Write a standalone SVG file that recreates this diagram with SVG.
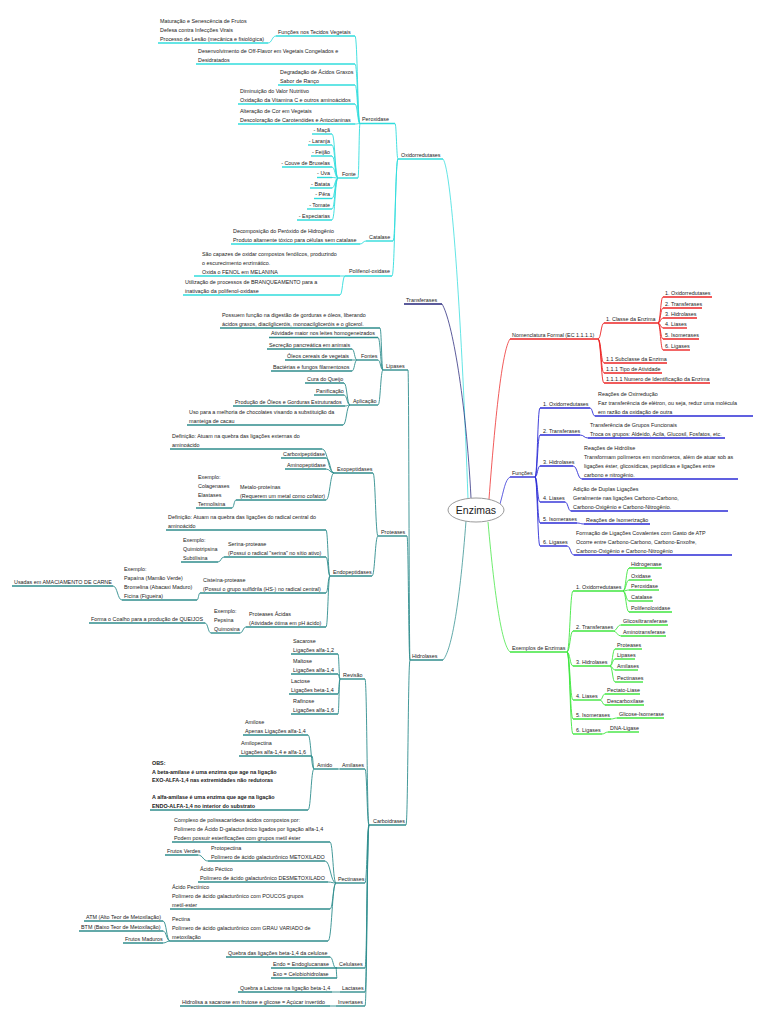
<svg xmlns="http://www.w3.org/2000/svg" width="768" height="1024" viewBox="0 0 768 1024">
<style>
text{font-family:"Liberation Sans",Arial,sans-serif;font-size:5.4px;fill:#222}
.b{font-weight:bold}
.e{text-anchor:end}
.u{fill:none;stroke-width:1.4}
.c{fill:none;stroke-width:0.9}
.m{fill:none;stroke-width:1;opacity:0.75}
.cy{stroke:#30dcdc}.nv{stroke:#25257a}.tl{stroke:#2f8d8d}.rd{stroke:#ec2424}.bl{stroke:#2b2bd6}.gr{stroke:#3fe63f}
</style>
<rect width="768" height="1024" fill="#fff"/>
<g id="connectors">
<path class="m cy" d="M468 499C462 330 452 170 443 159"/>
<path class="m nv" d="M471 498C466 400 452 320 442 304"/>
<path class="m tl" d="M466 521C460 600 452 650 443 660"/>
<path class="m rd" d="M489 499C495 420 502 350 510 339"/>
<path class="m bl" d="M500 504C504 490 505 480 510 477"/>
<path class="m gr" d="M488 522C495 600 502 645 510 652"/>
<!-- cyan -->
<path class="c cy" d="M398 159C396.5 159 396.5 123.5 395 123.5M398 159C395.5 159 395.5 241 393 241M398 159C395 159 395 276 392 276"/>
<path class="c cy" d="M360 123.5C357.5 123.5 357.5 36 355 36M360 123.5C357.5 123.5 357.5 64 355 64M360 123.5C357.5 123.5 357.5 85 355 85M360 123.5C357.5 123.5 357.5 104 355 104M360 123.5C357.5 123.5 357.5 124 355 124M360 123.5C359 123.5 359 178 358 178"/>
<path class="c cy" d="M276 36C272 36 272 43 268 43"/>
<path class="c cy" d="M338 178C335 178 335 134 332 134M338 178C335 178 335 145 332 145M338 178C335 178 335 156 332 156M338 178C335 178 335 167 332 167M338 178C335 178 335 177.5 332 177.5M338 178C335 178 335 188 332 188M338 178C335 178 335 198.5 332 198.5M338 178C335 178 335 209 332 209M338 178C335 178 335 220 332 220"/>
<path class="c cy" d="M366 241C363 241 363 244 360 244M345 276H340M345 276C342.5 276 342.5 295 340 295"/>
<!-- teal -->
<path class="c tl" d="M410 660C409 660 409 370 408 370M410 660C408.5 660 408.5 536 407 536M410 660C408 660 408 825 406 825"/>
<path class="c tl" d="M383 370C381.5 370 381.5 328 380 328M383 370C380.5 370 380.5 337.5 378 337.5M383 370C380.5 370 380.5 360 378 360M383 370C380.5 370 380.5 405 378 405"/>
<path class="c tl" d="M357 360C354.5 360 354.5 349 352 349M357 360H352M357 360C354.5 360 354.5 371 352 371"/>
<path class="c tl" d="M350 405C347 405 347 383 344 383M350 405C347 405 347 395 344 395M350 405C347.5 405 347.5 406 345 406M350 405C346.5 405 346.5 425 343 425"/>
<path class="c tl" d="M378 536C375.5 536 375.5 473 373 473M378 536C375 536 375 576 372 576"/>
<path class="c tl" d="M334 473C328 473 328 449 322 449M334 473C330 473 330 458 326 458M334 473C330 473 330 469 326 469M334 473C330 473 330 500 326 500"/>
<path class="c tl" d="M236 500C234 500 234 508 232 508"/>
<path class="c tl" d="M330 576C328 576 328 530 326 530M330 576C328 576 328 557 326 557M330 576C328 576 328 593 326 593M330 576C328 576 328 627 326 627"/>
<path class="c tl" d="M224 557C221 557 221 562 218 562M200 593C198.5 593 198.5 600 197 600M122 600C117.5 600 117.5 586 113 586M246 627C243 627 243 633 240 633M211 633C208 633 208 623 205 623"/>
<path class="c tl" d="M369 825C367 825 367 679 365 679M369 825C367 825 367 769 365 769M369 825C367 825 367 883 365 883M369 825C367 825 367 968 365 968M369 825C367 825 367 992 365 992M369 825C367 825 367 1006 365 1006"/>
<path class="c tl" d="M340 679C339 679 339 654 338 654M340 679C339 679 339 674 338 674M340 679C339 679 339 694 338 694M340 679C339 679 339 714 338 714"/>
<path class="c tl" d="M340 769H338M314 769C311 769 311 735 308 735M314 769C313 769 313 756 312 756M314 769C311 769 311 810 308 810"/>
<path class="c tl" d="M336 883C333 883 333 842 330 842M336 883C330.5 883 330.5 861 325 861M336 883C332 883 332 882 328 882M336 883C333 883 333 909 330 909M336 883C332 883 332 941 328 941"/>
<path class="c tl" d="M208 861C203 861 203 855 198 855M170 941C166.5 941 166.5 921 163 921M170 941C166.5 941 166.5 931 163 931M170 941C166.5 941 166.5 943 163 943"/>
<path class="c tl" d="M336 968C333 968 333 957 330 957M336 968H337M336 968C336.5 968 336.5 978 337 978M340 992H332M336 1006H330"/>
<!-- red -->
<path class="c rd" d="M598 339C601 339 601 323 604 323M598 339C601 339 601 363 604 363M598 339C601 339 601 373 604 373M598 339C601 339 601 383 604 383"/>
<path class="c rd" d="M658 323C660.5 323 660.5 297 663 297M658 323C660.5 323 660.5 308 663 308M658 323C660.5 323 660.5 318 663 318M658 323C660.5 323 660.5 328 663 328M658 323C660.5 323 660.5 339 663 339M658 323C660.5 323 660.5 350 663 350"/>
<!-- blue -->
<path class="c bl" d="M535 477C537.5 477 537.5 408 540 408M535 477C537.5 477 537.5 435 540 435M535 477C537.5 477 537.5 466 540 466M535 477C537.5 477 537.5 502 540 502M535 477C537.5 477 537.5 523 540 523M535 477C537.5 477 537.5 546 540 546"/>
<path class="c bl" d="M590 408C592.5 408 592.5 416 595 416M580 435C584 435 584 438 588 438M573 466C577.5 466 577.5 479 582 479M565 502C568 502 568 511 571 511M577 523C580.5 523 580.5 524 584 524M567 546C570.5 546 570.5 555 574 555"/>
<!-- green -->
<path class="c gr" d="M567 652C570 652 570 591 573 591M567 652C570 652 570 631 573 631M567 652C570 652 570 666 573 666M567 652C570 652 570 700 573 700M567 652C570 652 570 719 573 719M567 652C570 652 570 734 573 734"/>
<path class="c gr" d="M623 591C626 591 626 568 629 568M623 591C626 591 626 580 629 580M623 591C626 591 626 590 629 590M623 591C626 591 626 601 629 601M623 591C626 591 626 612 629 612"/>
<path class="c gr" d="M613 631C617 631 617 625 621 625M613 631C617 631 617 636 621 636"/>
<path class="c gr" d="M610 666C612.5 666 612.5 649 615 649M610 666C612.5 666 612.5 659 615 659M610 666C612.5 666 612.5 670 615 670M610 666C612.5 666 612.5 682 615 682"/>
<path class="c gr" d="M600 700C602.5 700 602.5 694 605 694M600 700C602.5 700 602.5 705 605 705M611 719C614 719 614 718 617 718M602 734C605 734 605 732 608 732"/>
</g>

<g id="enzimas"><ellipse cx="476" cy="510" rx="28" ry="12" fill="#fff" stroke="#9a9a9a" stroke-width="1"/><text x="476" y="514" text-anchor="middle" style="font-size:10.5px">Enzimas</text></g>

<!-- Oxidorredutases branch -->
<g id="oxidorredutases"><text x="401" y="156.5">Oxidorredutases</text><path class="u cy" d="M398 159H443"/></g>
<g id="peroxidase"><text x="362" y="121">Peroxidase</text><path class="u cy" d="M360 123.5H395"/></g>
<g id="funcoes-tecidos"><text x="278" y="33.5">Funções nos Tecidos Vegetais</text><path class="u cy" d="M276 36H355"/></g>
<g id="maturacao"><text x="160" y="23.1">Maturação e Senescência de Frutos<tspan x="160" dy="8.7">Defesa contra Infecções Virais</tspan><tspan x="160" dy="8.7">Processo de Lesão (mecânica e fisiológica)</tspan></text><path class="u cy" d="M158 43H268"/></g>
<g id="off-flavor"><text x="198" y="52.8">Desenvolvimento de Off-Flavor em Vegetais Congelados e<tspan x="198" dy="8.7">Desidratados</tspan></text><path class="u cy" d="M196 64H355"/></g>
<g id="degradacao"><text x="280" y="73.8">Degradação de Ácidos Graxos<tspan x="280" dy="8.7">Sabor de Ranço</tspan></text><path class="u cy" d="M278 85H355"/></g>
<g id="diminuicao"><text x="240" y="92.8">Diminuição do Valor Nutritivo<tspan x="240" dy="8.7">Oxidação da Vitamina C e outros aminoácidos</tspan></text><path class="u cy" d="M238 104H355"/></g>
<g id="alteracao"><text x="240" y="112.8">Alteração de Cor em Vegetais<tspan x="240" dy="8.7">Descoloração de Carotenóides e Antocianinas</tspan></text><path class="u cy" d="M238 124H355"/></g>
<g id="fonte"><text x="342" y="175.5">Fonte</text><path class="u cy" d="M338 178H358"/></g>
<g id="fonte-maca"><text class="e" x="330" y="131.5">- Maçã</text><path class="u cy" d="M312 134H332"/></g>
<g id="fonte-laranja"><text class="e" x="330" y="142.5">- Laranja</text><path class="u cy" d="M308 145H332"/></g>
<g id="fonte-feijao"><text class="e" x="330" y="153.5">- Feijão</text><path class="u cy" d="M311 156H332"/></g>
<g id="fonte-couve"><text class="e" x="330" y="164.5">- Couve de Bruxelas</text><path class="u cy" d="M282 167H332"/></g>
<g id="fonte-uva"><text class="e" x="330" y="175">- Uva</text><path class="u cy" d="M317 177.5H332"/></g>
<g id="fonte-batata"><text class="e" x="330" y="185.5">- Batata</text><path class="u cy" d="M310 188H332"/></g>
<g id="fonte-pera"><text class="e" x="330" y="196">- Pêra</text><path class="u cy" d="M314 198.5H332"/></g>
<g id="fonte-tomate"><text class="e" x="330" y="206.5">- Tomate</text><path class="u cy" d="M307 209H332"/></g>
<g id="fonte-especiarias"><text class="e" x="330" y="217.5">- Especiarias</text><path class="u cy" d="M297 220H332"/></g>
<g id="catalase"><text x="369" y="238.5">Catalase</text><path class="u cy" d="M366 241H393"/></g>
<g id="catalase-desc"><text x="233" y="232.8">Decomposição do Peróxido de Hidrogênio<tspan x="233" dy="8.7">Produto altamente tóxico para células sem catalase</tspan></text><path class="u cy" d="M231 244H360"/></g>
<g id="polifenol"><text x="349" y="273">Polifenol-oxidase</text><path class="u cy" d="M345 276H392"/></g>
<g id="polifenol-desc"><text x="202" y="256.1">São capazes de oxidar compostos fenólicos, produzindo<tspan x="202" dy="8.7">o escurecimento enzimático.</tspan><tspan x="202" dy="8.7">Oxida o FENOL em MELANINA</tspan></text><path class="u cy" d="M194 276H340"/></g>
<g id="polifenol-util"><text x="185" y="283.8">Utilização de processos de BRANQUEAMENTO para a<tspan x="185" dy="8.7">inativação da polifenol-oxidase</tspan></text><path class="u cy" d="M183 295H340"/></g>

<g id="transferases"><text x="406" y="301.5">Transferases</text><path class="u nv" d="M404 304H442"/></g>

<!-- Hidrolases branch -->
<g id="hidrolases"><text x="412" y="657.5">Hidrolases</text><path class="u tl" d="M410 660H443"/></g>
<g id="lipases"><text x="386" y="367.5">Lipases</text><path class="u tl" d="M383 370H408"/></g>
<g id="lip-possuem"><text x="222" y="316.8">Possuem função na digestão de gorduras e óleos, liberando<tspan x="222" dy="8.7">ácidos graxos, diacilgliceróis, monoacilgliceróis e o glicerol.</tspan></text><path class="u tl" d="M220 328H380"/></g>
<g id="lip-atividade"><text x="271" y="335">Atividade maior nos leites homogeneizados</text><path class="u tl" d="M269 337.5H378"/></g>
<g id="lip-fontes"><text x="361" y="357.5">Fontes</text><path class="u tl" d="M357 360H378"/></g>
<g id="lip-secrecao"><text x="269" y="346.5">Secreção pancreática em animais</text><path class="u tl" d="M267 349H352"/></g>
<g id="lip-oleos"><text x="287" y="357.5">Óleos cereais de vegetais</text><path class="u tl" d="M285 360H352"/></g>
<g id="lip-bacterias"><text x="273" y="368.5">Bactérias e fungos filamentosos</text><path class="u tl" d="M271 371H352"/></g>
<g id="lip-aplicacao"><text x="353" y="402.5">Aplicação</text><path class="u tl" d="M350 405H378"/></g>
<g id="lip-cura"><text x="307" y="380.5">Cura do Queijo</text><path class="u tl" d="M305 383H344"/></g>
<g id="lip-panificacao"><text x="316" y="392.5">Panificação</text><path class="u tl" d="M314 395H344"/></g>
<g id="lip-producao"><text x="235" y="403.5">Produção de Óleos e Gorduras Estruturados</text><path class="u tl" d="M233 406H345"/></g>
<g id="lip-uso"><text x="189" y="413.8">Uso para a melhoria de chocolates visando a substituição da<tspan x="189" dy="8.7">manteiga de cacau</tspan></text><path class="u tl" d="M187 425H343"/></g>

<g id="proteases"><text x="381" y="533.5">Proteases</text><path class="u tl" d="M378 536H407"/></g>
<g id="exopeptidases"><text x="337" y="470.5">Exopeptidases</text><path class="u tl" d="M334 473H373"/></g>
<g id="exo-definicao"><text x="172" y="437.8">Definição: Atuam na quebra das ligações externas do<tspan x="172" dy="8.7">aminoácido</tspan></text><path class="u tl" d="M170 449H322"/></g>
<g id="exo-carboxi"><text x="283" y="455.5">Carboxipeptidase</text><path class="u tl" d="M281 458H326"/></g>
<g id="exo-amino"><text x="287" y="466.5">Aminopeptidase</text><path class="u tl" d="M285 469H326"/></g>
<g id="exo-metalo"><text x="240" y="488.8">Metalo-proteínas<tspan x="240" dy="8.7">(Requerem um metal como cofator)</tspan></text><path class="u tl" d="M236 500H326"/></g>
<g id="exo-metalo-ex"><text x="198" y="479.4">Exemplo:<tspan x="198" dy="8.7">Colagenases</tspan><tspan x="198" dy="8.7">Elastases</tspan><tspan x="198" dy="8.7">Termolisina</tspan></text><path class="u tl" d="M196 508H232"/></g>
<g id="endopeptidases"><text x="333" y="573.5">Endopeptidases</text><path class="u tl" d="M330 576H372"/></g>
<g id="endo-definicao"><text x="168" y="518.8">Definição: Atuam na quebra das ligações do radical central do<tspan x="168" dy="8.7">aminoácido</tspan></text><path class="u tl" d="M166 530H326"/></g>
<g id="endo-serina"><text x="228" y="545.8">Serina-protease<tspan x="228" dy="8.7">(Possui o radical &quot;serina&quot; no sítio ativo)</tspan></text><path class="u tl" d="M224 557H326"/></g>
<g id="endo-serina-ex"><text x="183" y="542.1">Exemplo:<tspan x="183" dy="8.7">Quimiotripsina</tspan><tspan x="183" dy="8.7">Subtilisina</tspan></text><path class="u tl" d="M181 562H218"/></g>
<g id="endo-cisteina"><text x="203" y="581.8">Cisteína-protease<tspan x="203" dy="8.7">(Possui o grupo sulfidrila (HS-) no radical central)</tspan></text><path class="u tl" d="M200 593H326"/></g>
<g id="endo-cisteina-ex"><text x="124" y="571.4">Exemplo:<tspan x="124" dy="8.7">Papaína (Mamão Verde)</tspan><tspan x="124" dy="8.7">Bromelina (Abacaxi Maduro)</tspan><tspan x="124" dy="8.7">Ficina (Figueira)</tspan></text><path class="u tl" d="M122 600H197"/></g>
<g id="endo-carne"><text x="14" y="583.5">Usadas em AMACIAMENTO DE CARNE</text><path class="u tl" d="M12 586H113"/></g>
<g id="endo-acidas"><text x="249" y="615.8">Proteases Ácidas<tspan x="249" dy="8.7">(Atividade ótima em pH ácido)</tspan></text><path class="u tl" d="M246 627H326"/></g>
<g id="endo-acidas-ex"><text x="214" y="613.1">Exemplo:<tspan x="214" dy="8.7">Pepsina</tspan><tspan x="214" dy="8.7">Quimosina</tspan></text><path class="u tl" d="M211 633H240"/></g>
<g id="endo-queijo"><text x="91" y="620.5">Forma o Coalho para a produção de QUEIJOS</text><path class="u tl" d="M89 623H205"/></g>

<g id="carboidrases"><text x="373" y="822.5">Carboidrases</text><path class="u tl" d="M369 825H406"/></g>
<g id="revisao"><text x="343" y="676.5">Revisão</text><path class="u tl" d="M340 679H365"/></g>
<g id="rev-sacarose"><text x="293" y="642.8">Sacarose<tspan x="293" dy="8.7">Ligações alfa-1,2</tspan></text><path class="u tl" d="M291 654H338"/></g>
<g id="rev-maltose"><text x="293" y="662.8">Maltose<tspan x="293" dy="8.7">Ligações alfa-1,4</tspan></text><path class="u tl" d="M291 674H338"/></g>
<g id="rev-lactose"><text x="291" y="682.8">Lactose<tspan x="291" dy="8.7">Ligações beta-1,4</tspan></text><path class="u tl" d="M289 694H338"/></g>
<g id="rev-rafinose"><text x="293" y="702.8">Rafinose<tspan x="293" dy="8.7">Ligações alfa-1,6</tspan></text><path class="u tl" d="M291 714H338"/></g>
<g id="amilases"><text x="342" y="766.5">Amilases</text><path class="u tl" d="M340 769H365"/></g>
<g id="amido"><text x="317" y="766.5">Amido</text><path class="u tl" d="M314 769H338"/></g>
<g id="amilose"><text x="245" y="723.8">Amilose<tspan x="245" dy="8.7">Apenas Ligações alfa-1,4</tspan></text><path class="u tl" d="M243 735H308"/></g>
<g id="amilopectina"><text x="241" y="744.8">Amilopectina<tspan x="241" dy="8.7">Ligações alfa-1,4 e alfa-1,6</tspan></text><path class="u tl" d="M239 756H312"/></g>
<g id="amido-obs"><text class="b" x="152" y="765">OBS:<tspan x="152" dy="8.5">A beta-amilase é uma enzima que age na ligação</tspan><tspan x="152" dy="8.5">EXO-ALFA-1,4 nas extremidades não redutoras</tspan><tspan x="152" dy="17">A alfa-amilase é uma enzima que age na ligação</tspan><tspan x="152" dy="8.5">ENDO-ALFA-1,4 no interior do substrato</tspan></text><path class="u tl" d="M150 810H308"/></g>
<g id="pectinases"><text x="338" y="880.5">Pectinases</text><path class="u tl" d="M336 883H365"/></g>
<g id="pec-complexo"><text x="174" y="822.1">Complexo de polissacarídeos ácidos compostos por:<tspan x="174" dy="8.7">Polímero de Ácido D-galacturônico ligados por ligação alfa-1,4</tspan><tspan x="174" dy="8.7">Podem possuir esterificações com grupos metil éster</tspan></text><path class="u tl" d="M172 842H330"/></g>
<g id="pec-protopectina"><text x="211" y="849.8">Protopectina<tspan x="211" dy="8.7">Polímero de ácido galacturônico METOXILADO</tspan></text><path class="u tl" d="M208 861H325"/></g>
<g id="pec-verdes"><text x="167" y="852.5">Frutos Verdes</text><path class="u tl" d="M165 855H198"/></g>
<g id="pec-peptico"><text x="200" y="870.8">Ácido Péctico<tspan x="200" dy="8.7">Polímero de ácido galacturônico DESMETOXILADO</tspan></text><path class="u tl" d="M198 882H328"/></g>
<g id="pec-pectinico"><text x="172" y="889.1">Ácido Pectínico<tspan x="172" dy="8.7">Polímero de ácido galacturônico com POUCOS grupos</tspan><tspan x="172" dy="8.7">metil-ester</tspan></text><path class="u tl" d="M170 909H330"/></g>
<g id="pec-pectina"><text x="172" y="921.1">Pectina<tspan x="172" dy="8.7">Polímero de ácido galacturônico com GRAU VARIADO de</tspan><tspan x="172" dy="8.7">metoxilação</tspan></text><path class="u tl" d="M170 941H328"/></g>
<g id="pec-atm"><text x="86" y="918.5">ATM (Alto Teor de Metoxilação)</text><path class="u tl" d="M84 921H163"/></g>
<g id="pec-btm"><text x="81" y="928.5">BTM (Baixo Teor de Metoxilação)</text><path class="u tl" d="M79 931H163"/></g>
<g id="pec-maduros"><text x="125" y="940.5">Frutos Maduros</text><path class="u tl" d="M123 943H163"/></g>
<g id="celulases"><text x="339" y="965.5">Celulases</text><path class="u tl" d="M336 968H365"/></g>
<g id="cel-quebra"><text x="228" y="954.5">Quebra das ligações beta-1,4 da celulose</text><path class="u tl" d="M226 957H330"/></g>
<g id="cel-endo"><text x="273" y="965.5">Endo = Endoglucanase</text><path class="u tl" d="M271 968H337"/></g>
<g id="cel-exo"><text x="273" y="975.5">Exo = Celobiohidrolase</text><path class="u tl" d="M271 978H337"/></g>
<g id="lactases"><text x="342" y="989.5">Lactases</text><path class="u tl" d="M340 992H365"/></g>
<g id="lac-quebra"><text x="240" y="989.5">Quebra a Lactose na ligação beta-1,4</text><path class="u tl" d="M238 992H332"/></g>
<g id="invertases"><text x="338" y="1003.5">Invertases</text><path class="u tl" d="M336 1006H365"/></g>
<g id="inv-hidrolisa"><text x="182" y="1003.5">Hidrolisa a sacarose em frutose e glicose = Açúcar invertido</text><path class="u tl" d="M180 1006H330"/></g>

<!-- Nomenclatura -->
<g id="nomenclatura"><text x="512" y="336.5">Nomenclatura Formal (EC 1.1.1.1)</text><path class="u rd" d="M510 339H598"/></g>
<g id="nom-classe"><text x="606" y="320.5">1. Classe da Enzima</text><path class="u rd" d="M604 323H658"/></g>
<g id="nom-c1"><text x="665" y="294.5">1. Oxidorredutases</text><path class="u rd" d="M663 297H712"/></g>
<g id="nom-c2"><text x="665" y="305.5">2. Transferases</text><path class="u rd" d="M663 308H702"/></g>
<g id="nom-c3"><text x="665" y="315.5">3. Hidrolases</text><path class="u rd" d="M663 318H697"/></g>
<g id="nom-c4"><text x="665" y="325.5">4. Liases</text><path class="u rd" d="M663 328H687"/></g>
<g id="nom-c5"><text x="665" y="336.5">5. Isomerases</text><path class="u rd" d="M663 339H699"/></g>
<g id="nom-c6"><text x="665" y="347.5">6. Ligases</text><path class="u rd" d="M663 350H690"/></g>
<g id="nom-sub"><text x="606" y="360.5">1.1 Subclasse da Enzima</text><path class="u rd" d="M604 363H667"/></g>
<g id="nom-tipo"><text x="606" y="370.5">1.1.1 Tipo de Atividade</text><path class="u rd" d="M604 373H662"/></g>
<g id="nom-num"><text x="606" y="380.5">1.1.1.1 Numero de Identificação da Enzima</text><path class="u rd" d="M604 383H710"/></g>

<!-- Funções -->
<g id="funcoes"><text x="512" y="474.5">Funções</text><path class="u bl" d="M510 477H535"/></g>
<g id="fn-oxi"><text x="543" y="405.5">1. Oxidorredutases</text><path class="u bl" d="M540 408H590"/></g>
<g id="fn-oxi-d"><text x="598" y="396.1">Reações de Oxirredução<tspan x="598" dy="8.7">Faz transferência de elétron, ou seja, reduz uma molécula</tspan><tspan x="598" dy="8.7">em razão da oxidação de outra</tspan></text><path class="u bl" d="M595 416H753"/></g>
<g id="fn-trans"><text x="543" y="432.5">2. Transferases</text><path class="u bl" d="M540 435H580"/></g>
<g id="fn-trans-d"><text x="590" y="426.8">Transferência de Grupos Funcionais<tspan x="590" dy="8.7">Troca os grupos: Aldeído, Acila, Glucosil, Fosfatos, etc.</tspan></text><path class="u bl" d="M588 438H725"/></g>
<g id="fn-hidro"><text x="543" y="463.5">3. Hidrolases</text><path class="u bl" d="M540 466H573"/></g>
<g id="fn-hidro-d"><text x="584" y="450.4">Reações de Hidrólise<tspan x="584" dy="8.7">Transformam polímeros em monômeros, além de atuar sob as</tspan><tspan x="584" dy="8.7">ligações éster, glicosídicas, peptídicas e ligações entre</tspan><tspan x="584" dy="8.7">carbono e nitrogênio.</tspan></text><path class="u bl" d="M582 479H738"/></g>
<g id="fn-liases"><text x="543" y="499.5">4. Liases</text><path class="u bl" d="M540 502H565"/></g>
<g id="fn-liases-d"><text x="573" y="491.1">Adição de Duplas Ligações<tspan x="573" dy="8.7">Geralmente nas ligações Carbono-Carbono,</tspan><tspan x="573" dy="8.7">Carbono-Oxigênio e Carbono-Nitrogênio.</tspan></text><path class="u bl" d="M571 511H728"/></g>
<g id="fn-iso"><text x="543" y="520.5">5. Isomerases</text><path class="u bl" d="M540 523H577"/></g>
<g id="fn-iso-d"><text x="586" y="521.5">Reações de Isomerização</text><path class="u bl" d="M584 524H650"/></g>
<g id="fn-lig"><text x="543" y="543.5">6. Ligases</text><path class="u bl" d="M540 546H567"/></g>
<g id="fn-lig-d"><text x="576" y="535.1">Formação de Ligações Covalentes com Gasto de ATP<tspan x="576" dy="8.7">Ocorre entre Carbono-Carbono, Carbono-Enxofre,</tspan><tspan x="576" dy="8.7">Carbono-Oxigênio e Carbono-Nitrogênio</tspan></text><path class="u bl" d="M574 555H732"/></g>

<!-- Exemplos -->
<g id="exemplos"><text x="512" y="649.5">Exemplos de Enzimas</text><path class="u gr" d="M510 652H567"/></g>
<g id="ex-oxi"><text x="576" y="588.5">1. Oxidorredutases</text><path class="u gr" d="M573 591H623"/></g>
<g id="ex-hidrogenase"><text x="631" y="565.5">Hidrogenase</text><path class="u gr" d="M629 568H662"/></g>
<g id="ex-oxidase"><text x="631" y="577.5">Oxidase</text><path class="u gr" d="M629 580H652"/></g>
<g id="ex-peroxidase"><text x="631" y="587.5">Peroxidase</text><path class="u gr" d="M629 590H659"/></g>
<g id="ex-catalase"><text x="631" y="598.5">Catalase</text><path class="u gr" d="M629 601H653"/></g>
<g id="ex-polifenoloxidase"><text x="631" y="609.5">Polifenoloxidase</text><path class="u gr" d="M629 612H672"/></g>
<g id="ex-trans"><text x="576" y="628.5">2. Transferases</text><path class="u gr" d="M573 631H613"/></g>
<g id="ex-glicosil"><text x="623" y="622.5">Glicosiltransferase</text><path class="u gr" d="M621 625H668"/></g>
<g id="ex-amino"><text x="623" y="633.5">Aminotransferase</text><path class="u gr" d="M621 636H666"/></g>
<g id="ex-hidro"><text x="576" y="663.5">3. Hidrolases</text><path class="u gr" d="M573 666H610"/></g>
<g id="ex-proteases"><text x="617" y="646.5">Proteases</text><path class="u gr" d="M615 649H642"/></g>
<g id="ex-lipases"><text x="617" y="656.5">Lipases</text><path class="u gr" d="M615 659H635"/></g>
<g id="ex-amilases"><text x="617" y="667.5">Amilases</text><path class="u gr" d="M615 670H638"/></g>
<g id="ex-pectinases"><text x="617" y="679.5">Pectinases</text><path class="u gr" d="M615 682H643"/></g>
<g id="ex-liases"><text x="576" y="697.5">4. Liases</text><path class="u gr" d="M573 700H600"/></g>
<g id="ex-pectato"><text x="607" y="691.5">Pectato-Liase</text><path class="u gr" d="M605 694H640"/></g>
<g id="ex-descarboxilase"><text x="607" y="702.5">Descarboxilase</text><path class="u gr" d="M605 705H644"/></g>
<g id="ex-iso"><text x="576" y="716.5">5. Isomerases</text><path class="u gr" d="M573 719H611"/></g>
<g id="ex-glicose-iso"><text x="619" y="715.5">Glicose-Isomerase</text><path class="u gr" d="M617 718H664"/></g>
<g id="ex-lig"><text x="576" y="731.5">6. Ligases</text><path class="u gr" d="M573 734H602"/></g>
<g id="ex-dna"><text x="610" y="729.5">DNA-Ligase</text><path class="u gr" d="M608 732H639"/></g>
</svg>
